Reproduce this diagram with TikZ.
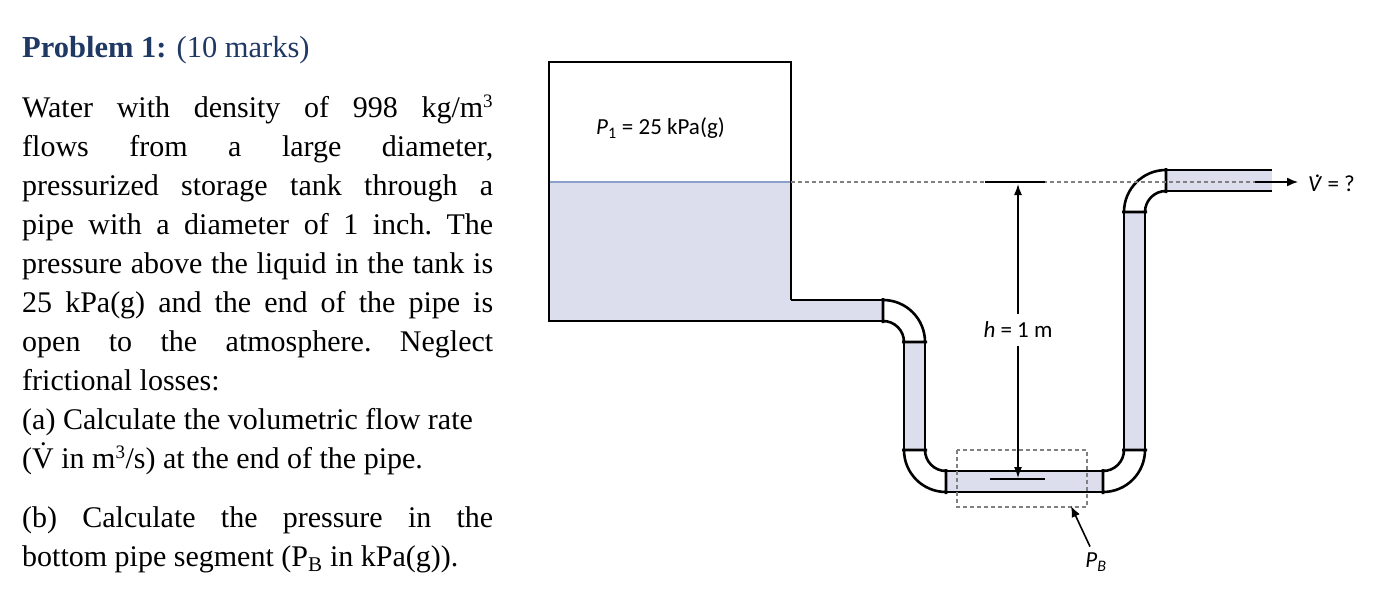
\documentclass[tikz,border=0pt]{standalone}
\usepackage{fontspec}
\usetikzlibrary{arrows.meta}
\setmainfont{Liberation Serif}
\newfontfamily\diag{Carlito}
\definecolor{liq}{RGB}{220,222,238}
\definecolor{lvl}{RGB}{140,160,205}
\definecolor{ttl}{RGB}{31,56,100}
\newcommand{\vdotit}{{\ooalign{\textit{V}\cr\hidewidth\kern0.2em\raisebox{0.6em}{.}\hidewidth\cr}}}
\newcommand{\supthree}{\textsuperscript{\fontsize{19}{19}\selectfont 3}}
\begin{document}
\begin{tikzpicture}[x=1pt,y=-1pt,
  ln/.style={line width=2.6pt},
  elbow/.style={ln,fill=white},
  lbl/.style={font=\diag\fontsize{23}{26}\selectfont,inner sep=0pt}]
\useasboundingbox (0,0) rectangle (1394,610);
% text
\node[anchor=base west,inner sep=0pt,text=ttl,font=\fontsize{30.5}{34}\selectfont] (title) at (22,57) {\textbf{Problem 1:} (10 marks)};
\node[anchor=base west,inner sep=0pt] (body) at (22,117) {\parbox[t]{471pt}{\fontsize{30}{39}\selectfont\frenchspacing
Water with density of 998 kg/m\supthree\linebreak
flows from a large diameter,\linebreak
pressurized storage tank through a\linebreak
pipe with a diameter of 1 inch. The\linebreak
pressure above the liquid in the tank is\linebreak
25 kPa(g) and the end of the pipe is\linebreak
open to the atmosphere. Neglect\linebreak
frictional losses:\par
(a) Calculate the volumetric flow rate\\
(\.{V} in m\supthree/s) at the end of the pipe.\par
\vspace{20pt}
(b) Calculate the pressure in the\linebreak
bottom pipe segment (P\textsubscript{B} in kPa(g)).}};
% liquid and pipes fill
\fill[liq] (549,182) rectangle (791,321);
\fill[liq] (791,300) rectangle (883,321);
\draw[lvl,line width=1.5pt] (549,182) -- (791,182);
% tank outline
\draw[ln] (791,300) -- (791,62) -- (549,62) -- (549,321) -- (883,321);
\draw[ln] (791,300) -- (883,300);
% vertical pipe 1
\fill[liq] (904,342) rectangle (925,450);
\draw[ln] (904,342) -- (904,450) (925,342) -- (925,450);
% bottom pipe
\fill[liq] (946,471) rectangle (1103,492);
\draw[ln] (946,471) -- (1103,471) (946,492) -- (1103,492);
% vertical pipe 2
\fill[liq] (1124,210) rectangle (1145,450);
\draw[ln] (1124,210) -- (1124,450) (1145,210) -- (1145,450);
% outlet pipe
\fill[liq] (1166,170) rectangle (1272,191);
\draw[ln] (1166,170) -- (1272,170) (1166,191) -- (1272,191);
% elbows
\draw[elbow] (883,298) -- (883,300) arc[start angle=270,end angle=360,radius=42] -- (927,342) -- (902,342) -- (904,342) arc[start angle=0,end angle=-90,radius=21] -- (883,323) -- cycle;
\draw[elbow] (902,450) -- (904,450) arc[start angle=180,end angle=90,radius=42] -- (946,494) -- (946,469) -- (946,471) arc[start angle=90,end angle=180,radius=21] -- (927,450) -- cycle;
\draw[elbow] (1103,494) -- (1103,492) arc[start angle=90,end angle=0,radius=42] -- (1147,450) -- (1122,450) -- (1124,450) arc[start angle=0,end angle=90,radius=21] -- (1103,469) -- cycle;
\draw[elbow] (1122,212) -- (1124,212) arc[start angle=180,end angle=270,radius=42] -- (1166,168) -- (1166,193) -- (1166,191) arc[start angle=270,end angle=180,radius=21] -- (1147,212) -- cycle;
% level dashed line and outlet arrow
\coordinate (lvlend) at (791,182);
\coordinate (arrS) at (1255,182);
\coordinate (arrE) at (1298,182);
\draw[gray,line width=1.4pt,dash pattern=on 4pt off 3pt] (lvlend) -- (arrS);
\draw[line width=1.4pt,-{Latex[length=11pt,width=9pt]}] (arrS) -- (arrE);
\node[lbl,anchor=west] (vdot) at (1308,184) {\vdotit{} = ?};
\node[lbl,anchor=west] (p1) at (596,128) {\textit{P}\textsubscript{1} = 25 kPa(g)};
% dimension h
\draw[line width=1.6pt] (985,182) -- (1045,182);
\draw[line width=1.6pt] (990,479) -- (1045,479);
\node[lbl] (h) at (1018,330) {\textit{h} = 1 m};
\coordinate (htop) at (1018,184);
\coordinate (hbot) at (1018,478);
\draw[line width=1.4pt,-{Latex[length=11pt,width=8pt]}] (h.north) ++(0,-8) -- (htop);
\draw[line width=1.4pt,-{Latex[length=11pt,width=8pt]}] (h.south) ++(0,8) -- (hbot);
% dashed box and P_B
\draw[gray,line width=1.4pt,dash pattern=on 4pt off 3pt] (957,450) rectangle (1087,507);
\coordinate (pbtip) at (1071,506);
\node[lbl] (pb) at (1096,562) {\textit{P\textsubscript{B}}};
\draw[line width=1.6pt,-{Latex[length=11pt,width=9pt]}] (pb.north) ++(-6,-6) -- (pbtip);
\end{tikzpicture}
\end{document}
